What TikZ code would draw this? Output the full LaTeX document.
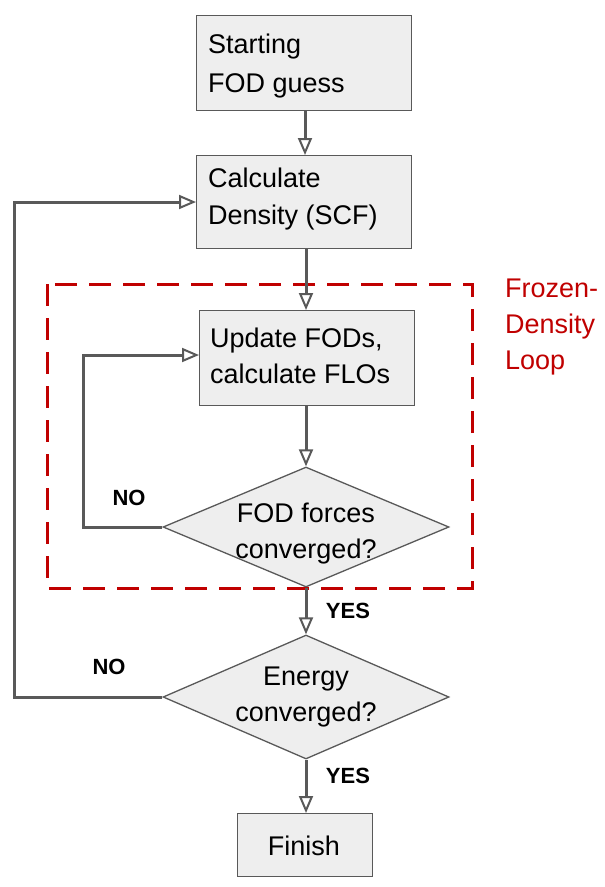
\documentclass[tikz,border=0pt]{standalone}
\usepackage{fontspec}
\setmainfont{Liberation Sans}
\usetikzlibrary{shapes.geometric,arrows.meta}
\definecolor{ln}{HTML}{595959}
\definecolor{bx}{HTML}{EEEEEE}
\definecolor{rd}{HTML}{C00000}
\begin{document}
\begin{tikzpicture}[x=1pt,y=-1pt,
 box/.style={draw=ln,fill=bx,line width=1.3pt,anchor=north west,inner sep=0pt},
 txt/.style={font=\fontsize{27}{37}\selectfont,align=left,inner sep=0pt},
 dia/.style={diamond,draw=ln,fill=bx,line width=1.3pt,font=\fontsize{27}{37}\selectfont,align=center,inner sep=0pt},
 arr/.style={draw=ln,line width=3pt,-{Triangle[open,length=17pt,width=14pt,line width=2pt]}},
 lab/.style={font=\bfseries\fontsize{22}{26}\selectfont}]
\useasboundingbox (0,0) rectangle (605,887);
\node[box,minimum width=215pt,minimum height=95pt] (s) at (196,15) {};
\node[txt,anchor=base west] at (208,53) {Starting};
\node[txt,anchor=base west] at (208,92) {FOD guess};
\node[box,minimum width=215pt,minimum height=93pt] (c) at (196,155) {};
\node[txt,anchor=base west] at (208,187) {Calculate};
\node[txt,anchor=base west] at (208,224) {Density (SCF)};
\draw[rd,line width=3pt,dash pattern=on 22pt off 12pt] (47,284) rectangle (472,588);
\node[box,minimum width=215pt,minimum height=95pt] (u) at (199,310) {};
\node[txt,anchor=base west] at (210,347) {Update FODs,};
\node[txt,anchor=base west] at (210,383) {calculate FLOs};
\node[dia,minimum width=286pt,minimum height=120pt] (f) at (306,527) {};
\node[txt,anchor=base,align=center] at (306,522) {FOD forces};
\node[txt,anchor=base,align=center] at (306,558) {converged?};
\node[dia,minimum width=286pt,minimum height=124pt] (e) at (306,697) {};
\node[txt,anchor=base] at (306,685) {Energy};
\node[txt,anchor=base] at (306,721) {converged?};
\node[box,minimum width=135pt,minimum height=63pt] (fin) at (237,813) {};
\node[txt,anchor=base] at (304,855) {Finish};
\node[rd,txt,anchor=base west] at (505,297) {Frozen-};
\node[rd,txt,anchor=base west] at (505,333) {Density};
\node[rd,txt,anchor=base west] at (505,369) {Loop};
\coordinate (a1) at (83,527); \coordinate (a2) at (83,355);
\coordinate (b1) at (14,697); \coordinate (b2) at (14,202);
\draw[arr] (s.south-|305,0) -- (305,155);
\draw[arr] (c.south-|306,0) -- (306,310);
\draw[arr] (306,405) -- (f.north);
\draw[arr] (f.south) -- (e.north);
\draw[arr] (e.south) -- (306,813);
\draw[arr] (f.west) -- (a1) -- (a2) -- (u.west|-a2);
\draw[arr] (e.west) -- (b1) -- (b2) -- (c.west|-b2);
\node[lab] at (129,498) {NO};
\node[lab] at (109,667) {NO};
\node[lab] at (348,611) {YES};
\node[lab] at (348,776) {YES};
\end{tikzpicture}
\end{document}
